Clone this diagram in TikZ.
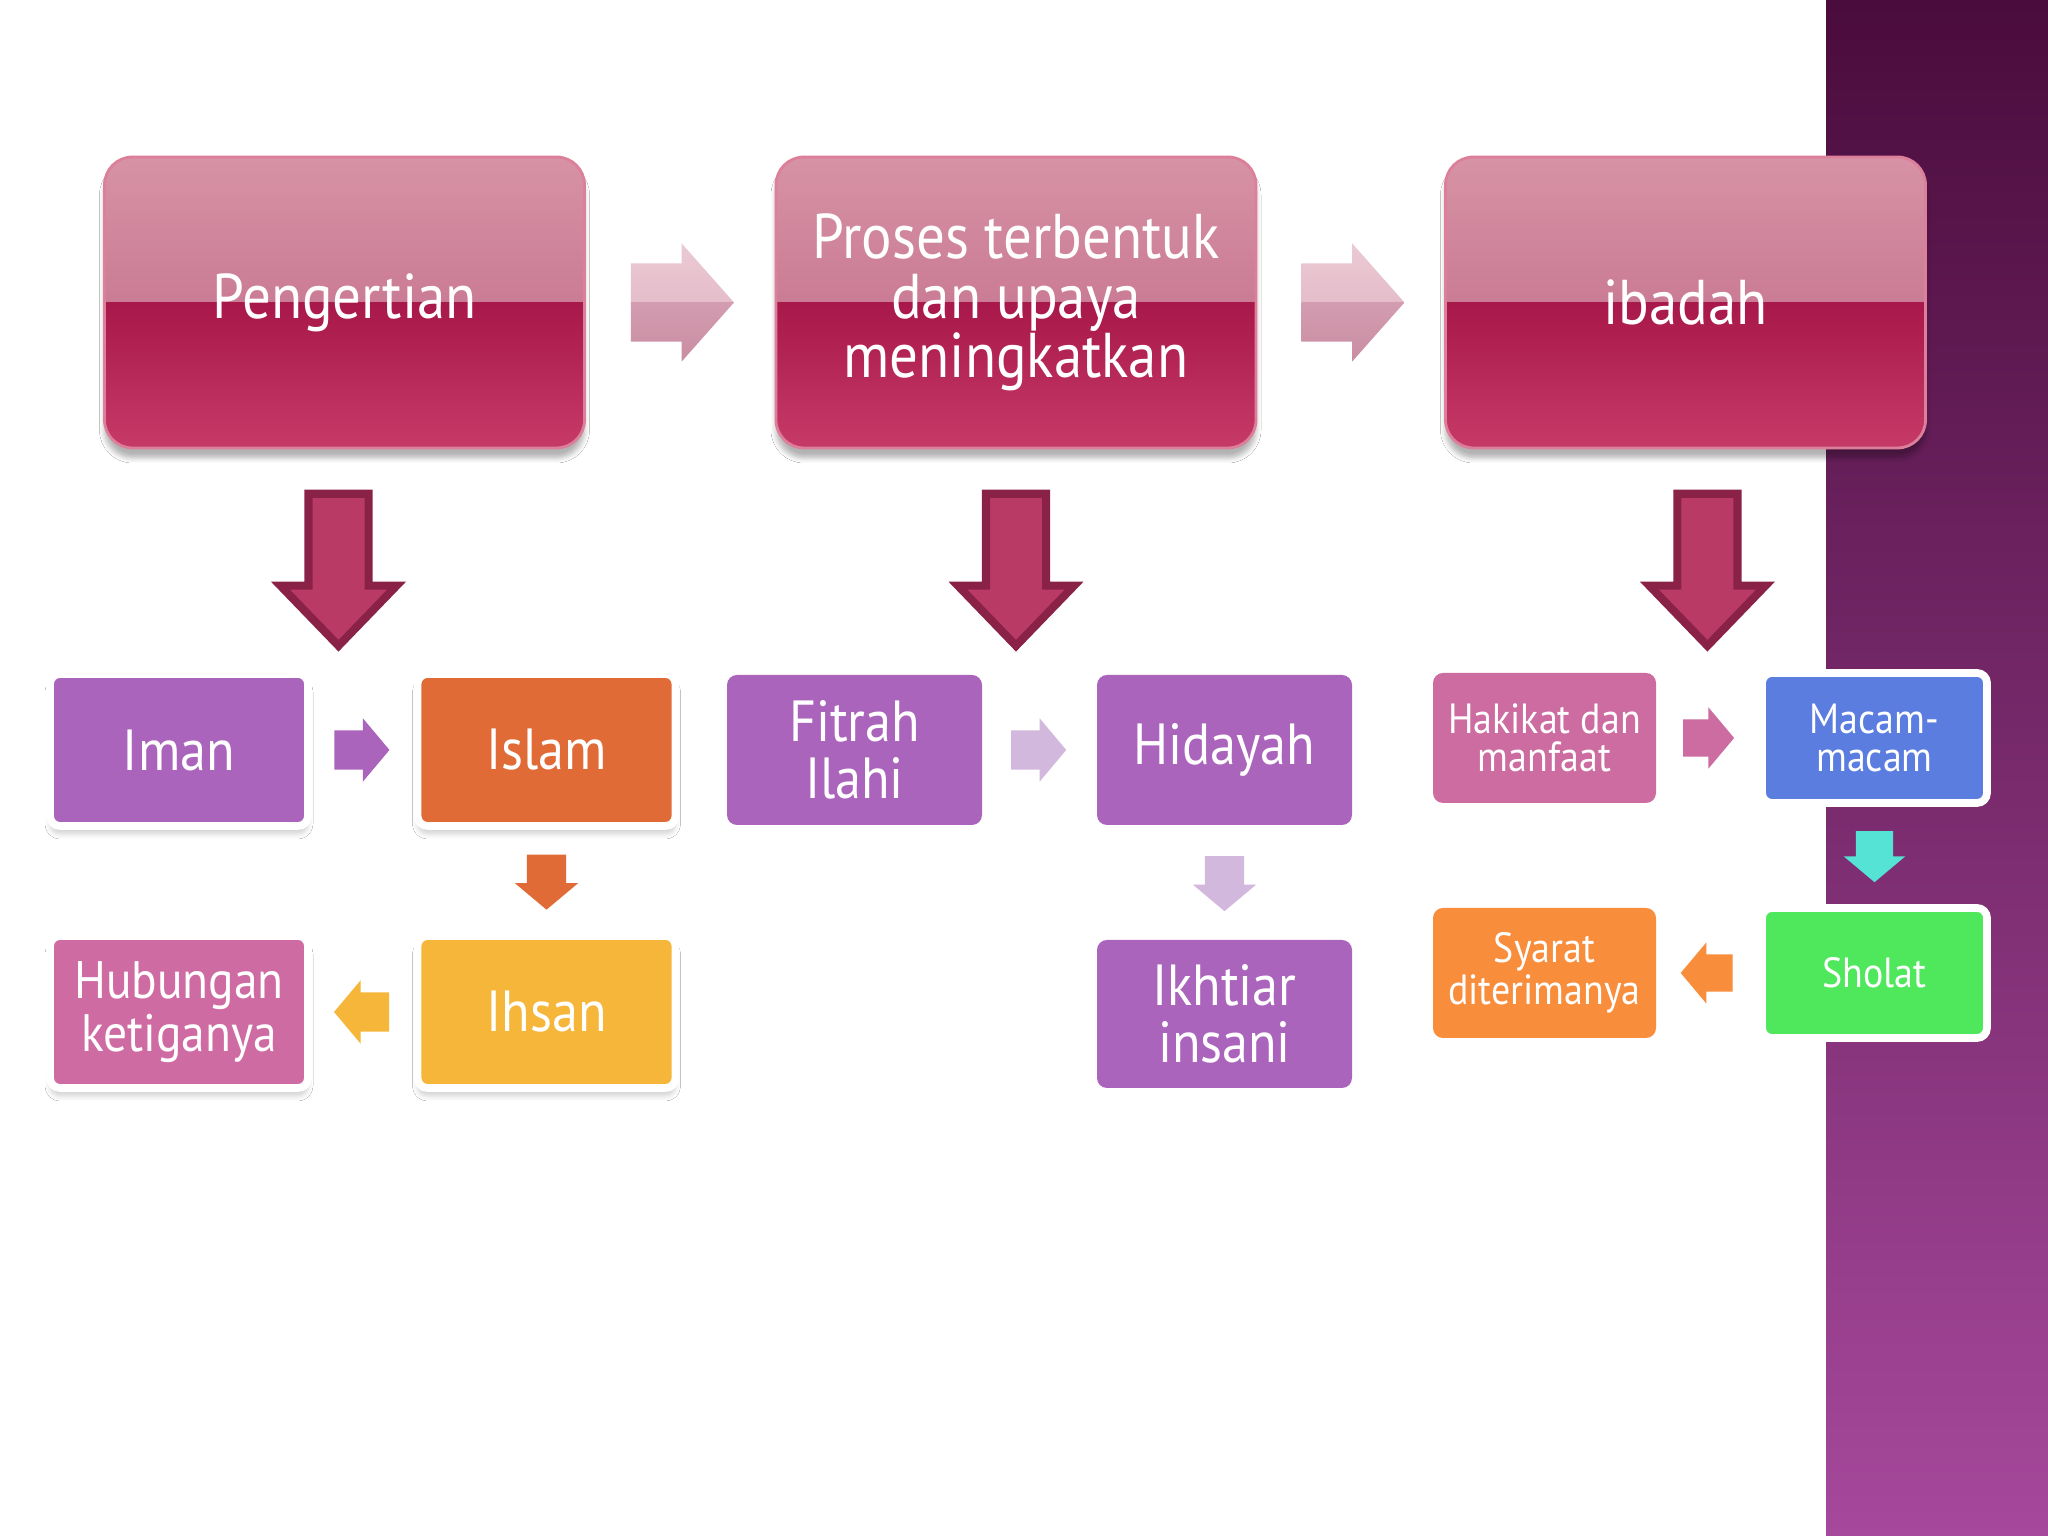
\documentclass[tikz,border=0pt]{standalone}
\usepackage{fontspec}
\setmainfont{PT Sans}[FakeStretch=0.9]
\usetikzlibrary{shapes.arrows, shadows.blur, calc}

\definecolor{BandTop}{HTML}{4A0C3C}
\definecolor{BandMid}{HTML}{74246A}
\definecolor{BandBot}{HTML}{A6489C}
\definecolor{HeadHi}{HTML}{D792A5}
\definecolor{HeadMid}{HTML}{BD6685}
\definecolor{HeadLo}{HTML}{A8184A}
\definecolor{HeadBot}{HTML}{C63A68}
\definecolor{HeadEdge}{HTML}{DC7F9A}
\definecolor{BigFill}{HTML}{B93B65}
\definecolor{BigEdge}{HTML}{8A2247}
\definecolor{FlowHi}{HTML}{EBCAD4}
\definecolor{FlowMid}{HTML}{DDB0BF}
\definecolor{FlowLo}{HTML}{D39CB0}
\definecolor{FlowBot}{HTML}{C98DA2}
\definecolor{PurpleBox}{HTML}{AB64BB}
\definecolor{OrangeBox}{HTML}{E06B37}
\definecolor{PinkBox}{HTML}{CF6BA3}
\definecolor{YellowBox}{HTML}{F6B63A}
\definecolor{MauveBox}{HTML}{CC6CA0}
\definecolor{BlueBox}{HTML}{5B7DE0}
\definecolor{GreenBox}{HTML}{4FE85C}
\definecolor{SyaratBox}{HTML}{F88D3C}
\definecolor{LilacArrow}{HTML}{D2B8DC}
\definecolor{CyanArrow}{HTML}{55E3D6}

\begin{document}
\begin{tikzpicture}[
    headbox/.style={
        rectangle,
        rounded corners=0.28cm,
        minimum width=4.8cm,
        minimum height=2.91cm,
        align=center,
        text=white,
        font=\fontsize{18pt}{16.9pt}\selectfont,
        draw=HeadEdge,
        line width=0.8pt,
        blur shadow={shadow xshift=0pt, shadow yshift=-0.1cm,
                     shadow opacity=30, shadow blur steps=5, shadow blur radius=0.05cm},
        path picture={
            \shade[sharp corners, top color=HeadHi, bottom color=HeadMid]
                (path picture bounding box.north west) rectangle (path picture bounding box.east);
            \shade[sharp corners, top color=HeadLo, bottom color=HeadBot]
                (path picture bounding box.west) rectangle (path picture bounding box.south east);
        }
    },
    itembox/.style={
        rectangle,
        rounded corners=0.1cm,
        minimum width=2.55cm,
        minimum height=1.5cm,
        inner sep=2pt,
        align=center,
        text=white,
        font=\fontsize{16.5pt}{16.4pt}\selectfont
    },
    framed/.style={draw=white, line width=2.2pt},
    shadowed/.style={blur shadow={shadow xshift=0pt, shadow yshift=-0.08cm,
                                  shadow opacity=18, shadow blur steps=5,
                                  shadow blur radius=0.05cm}},
    ibadahbox/.style={
        minimum width=2.23cm,
        minimum height=1.3cm,
        font=\fontsize{12pt}{10.8pt}\selectfont
    },
    flowarrow/.style={
        single arrow,
        anchor=tail,
        minimum height=1.03cm,
        inner xsep=0pt,
        inner ysep=0.385cm,
        single arrow head extend=0.2cm,
        single arrow tip angle=97,
        path picture={
            \shade[top color=FlowHi, bottom color=FlowMid]
                (path picture bounding box.north west) rectangle (path picture bounding box.east);
            \shade[top color=FlowLo, bottom color=FlowBot]
                (path picture bounding box.west) rectangle (path picture bounding box.south east);
        }
    },
    bigdown/.style={
        single arrow,
        anchor=tail,
        shape border rotate=270,
        minimum height=1.52cm,
        inner ysep=0pt,
        inner xsep=0.26cm,
        single arrow head extend=0.28cm,
        single arrow tip angle=88,
        fill=BigFill,
        draw=BigEdge,
        line width=2.3pt
    },
    minarrow/.style={
        single arrow,
        anchor=tail,
        minimum height=0.55cm,
        inner sep=0pt,
        single arrow head extend=0.12cm,
        single arrow tip angle=100
    },
    across/.style={inner ysep=#1},
    along/.style={inner xsep=#1}
]

% Canvas and purple band
\fill[white] (0,0) rectangle (20.48,15.36);
\useasboundingbox (0,0) rectangle (20.48,15.36);
\shade[top color=BandTop, middle color=BandMid, bottom color=BandBot]
    (18.26,0) rectangle (20.48,15.36);

% Main topics
\node[headbox] (pen) at (3.445,12.335) {Pengertian};
\node[headbox] (pro) at (10.16,12.335) {Proses terbentuk\\dan upaya\\meningkatkan};
\node[headbox] (iba) at (16.855,12.335) {ibadah};

\node[flowarrow] (f1) at ($(pen.east)!0.5!(pro.west) + (-0.5,0)$) {};
\node[flowarrow] (f2) at ($(pro.east)!0.5!(iba.west) + (-0.5,0)$) {};

% Pengertian
\node[itembox, framed, shadowed, fill=PurpleBox,
      minimum width=2.58cm, minimum height=1.52cm] (iman) at (1.79,7.86) {Iman};
\node[itembox, framed, shadowed, fill=OrangeBox,
      minimum width=2.58cm, minimum height=1.52cm] (islam) at (5.465,7.86) {Islam};
\node[itembox, framed, shadowed, fill=YellowBox,
      minimum width=2.58cm, minimum height=1.52cm] (ihsan) at (5.465,5.24) {Ihsan};
\node[itembox, framed, shadowed, fill=PinkBox,
      minimum width=2.58cm, minimum height=1.52cm,
      font=\fontsize{15pt}{14.9pt}\selectfont] (hub) at (1.79,5.24) {Hubungan\\ketiganya};

\node[minarrow, across=0.19cm, fill=PurpleBox] (a1)
    at ($(iman.east)!0.5!(islam.west) + (-0.29,0)$) {};
\node[minarrow, along=0.19cm, fill=OrangeBox, shape border rotate=270] (a2)
    at ($(islam.south)!0.5!(ihsan.north) + (0,0.27)$) {};
\node[minarrow, across=0.19cm, fill=YellowBox, shape border rotate=180] (a3)
    at ($(ihsan.west)!0.5!(hub.east) + (0.27,0)$) {};

% Proses
\node[itembox, fill=PurpleBox] (fitrah) at (8.545,7.86) {Fitrah\\Ilahi};
\node[itembox, fill=PurpleBox] (hidayah) at (12.245,7.86) {Hidayah};
\node[itembox, fill=PurpleBox, minimum height=1.48cm] (ikhtiar) at (12.245,5.22) {Ikhtiar\\insani};

\node[minarrow, across=0.19cm, fill=LilacArrow] (a4)
    at ($(fitrah.east)!0.5!(hidayah.west) + (-0.29,0)$) {};
\node[minarrow, along=0.19cm, fill=LilacArrow, shape border rotate=270] (a5)
    at ($(hidayah.south)!0.5!(ikhtiar.north) + (0,0.27)$) {};

% ibadah
\node[itembox, ibadahbox, fill=MauveBox] (hakikat) at (15.445,7.98) {Hakikat dan\\manfaat};
\node[itembox, ibadahbox, framed, fill=BlueBox, minimum width=2.25cm] (macam) at (18.745,7.98) {Macam-\\macam};
\node[itembox, ibadahbox, framed, fill=GreenBox, minimum width=2.25cm] (sholat) at (18.745,5.63) {Sholat};
\node[itembox, ibadahbox, fill=SyaratBox] (syarat) at (15.445,5.63) {Syarat\\diterimanya};

\node[minarrow, across=0.18cm, fill=MauveBox, minimum height=0.51cm] (a6)
    at ($(hakikat.east)!0.5!(macam.west) + (-0.25,0)$) {};
\node[minarrow, along=0.18cm, fill=CyanArrow, shape border rotate=270, minimum height=0.51cm] (a7)
    at ($(macam.south)!0.5!(sholat.north) + (0,0.25)$) {};
\node[minarrow, across=0.18cm, fill=SyaratBox, shape border rotate=180, minimum height=0.52cm] (a8)
    at ($(sholat.west)!0.5!(syarat.east) + (0.26,0)$) {};

% Down arrows from the topics
\coordinate (gap) at ($(hakikat.east)!0.5!(macam.west)$);
\node[bigdown] (d1) at ($(pen.south)!0.5!(pen.south |- iman.north) + (-0.06,0.7)$) {};
\node[bigdown] (d2) at (d1.tail -| pro.south) {};
\node[bigdown] (d3) at (d1.tail -| gap) {};

\end{tikzpicture}
\end{document}
